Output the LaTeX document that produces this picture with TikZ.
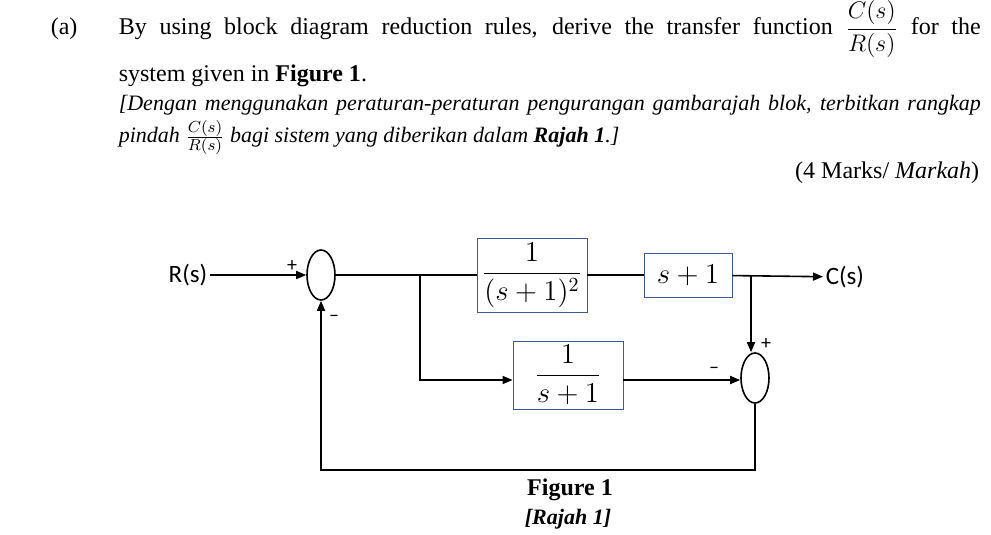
\documentclass[tikz,border=0pt]{standalone}
\usepackage{amsmath}
\usepackage{fontspec}
\setmainfont{Liberation Serif}
\newfontfamily\diagfont{Carlito}
\usetikzlibrary{arrows.meta,positioning,shapes.geometric}
\definecolor{blockblue}{RGB}{60,90,150}

\begin{document}
\begin{tikzpicture}[x=0.5pt, y=-0.5pt, thick, >={Triangle[length=5pt,width=4pt]},
  block/.style = {draw=blockblue, thin, minimum height=#1, inner sep=2pt},
  sum/.style = {draw, ellipse, minimum width=14pt, minimum height=25pt, inner sep=0pt},
  sign/.style = {font=\diagfont, inner sep=0pt},
  lbl/.style = {font=\diagfont\fontsize{12.5}{14}\selectfont, inner sep=1pt}]
\useasboundingbox (0,0) rectangle (991,535);
% question text
\node[anchor=base west, inner sep=0pt, font=\fontsize{12}{14}\selectfont] (qa) at (50,35) {(a)};
\node[anchor=base west, inner sep=0pt, font=\fontsize{12}{14}\selectfont] (q1) at (118,35) {\makebox[431pt][s]{By using block diagram reduction rules, derive the transfer function $\dfrac{C(s)}{R(s)}$ for the}};
\node[anchor=base west, inner sep=0pt, font=\fontsize{12}{14}\selectfont] (q2) at (118,82) {system given in \textbf{Figure 1}.};
\node[anchor=base west, inner sep=0pt, font=\fontsize{11}{13}\selectfont\itshape] (q3) at (118,111) {\makebox[431pt][s]{[Dengan menggunakan peraturan-peraturan pengurangan gambarajah blok, terbitkan rangkap}};
\node[anchor=base west, inner sep=0pt, font=\fontsize{11}{13}\selectfont\itshape] (q4) at (118,143) {pindah $\frac{C(s)}{R(s)}$ bagi sistem yang diberikan dalam \textbf{Rajah 1}.]};
\node[anchor=base east, inner sep=0pt, font=\fontsize{12}{14}\selectfont] (marks) at (980,178) {(4 Marks/ \textit{Markah})};
% blocks
\node[sum] (s1) at (321,275) {};
\node[sum] (s2) at (755,378) {};
\node[block=37pt, minimum width=55pt] (g1) at (532,275) {\Large$\dfrac{1}{(s+1)^2}$};
\node[block=22pt, minimum width=44pt] (g2) at (688,275) {\Large$s+1$};
\node[block=31pt, minimum width=55pt] (g3) at (568,375) {\Large$\dfrac{1}{s+1}$};
\node[lbl, anchor=east] (r) at (210,275) {R(s)};
\node[lbl, anchor=west] (c) at (823,277) {C(s)};
\coordinate (p1) at (420,275);
\coordinate (p2) at (751,275);
\coordinate (fb) at (321,470);
% signs
\node[sign] at (292,266) {+};
\node[sign] at (334,318) {\textendash};
\node[sign] at (766,344) {+};
\node[sign] at (714,370) {\textendash};
% connectors
\draw[->] (r) -- (s1);
\draw (s1) -- (g1);
\draw (g1) -- (g2);
\draw[->] (g2) -- (c);
\draw[->] (p2) -- (p2 |- s2.north);
\draw[->] (p1) |- (g3.west |- 0,380);
\draw[->] (g3.east |- 0,380) -- (s2.west |- 0,380);
\draw[->] (s2.south) |- (fb) -- (s1.south);
% caption
\node[font=\fontsize{12}{14}\selectfont\bfseries] (fig) at (570,490) {Figure 1};
\node[font=\fontsize{11}{13}\selectfont\bfseries\itshape] (raj) at (568,519) {[Rajah 1]};
\end{tikzpicture}
\end{document}
